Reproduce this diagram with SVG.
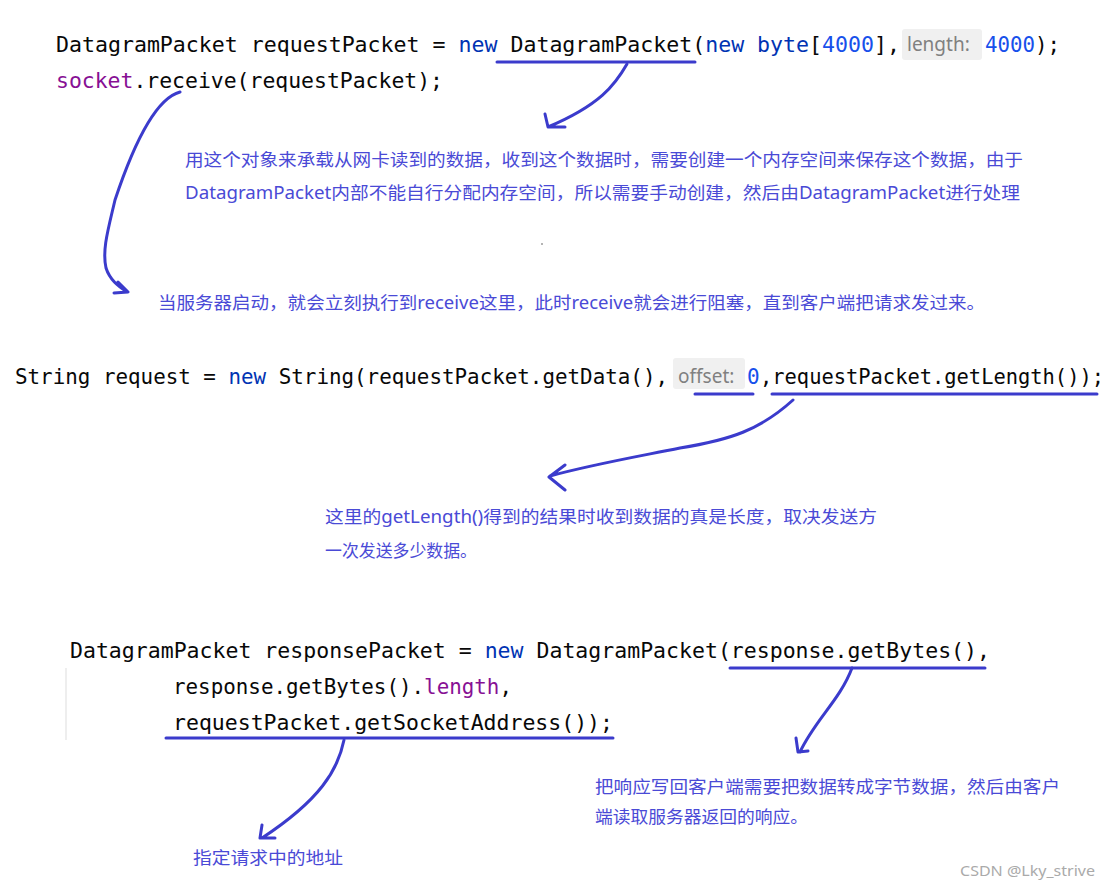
<svg xmlns="http://www.w3.org/2000/svg" width="1111" height="888" viewBox="0 0 1111 888">
<style>
.c{font-family:"DejaVu Sans Mono","Liberation Mono",monospace;font-size:21px;fill:#080808}
.k{fill:#0033b3}.n{fill:#1750eb}.p{fill:#871094}
.h{font-family:"Noto Sans","Liberation Sans",sans-serif;font-size:19px;fill:#808080}
.a{font-family:"Noto Sans","Noto Sans CJK SC",sans-serif;font-size:17.5px;fill:#4a4ad6}
.l{stroke:#3b3bcc;stroke-width:3;fill:none;stroke-linecap:round;stroke-linejoin:round}
</style>
<rect width="1111" height="888" fill="#fff"/>
<g id="code">
<rect x="902" y="29" width="80" height="31" rx="3" fill="#f0f0f0"/>
<rect x="673" y="358" width="72" height="31" rx="3" fill="#f0f0f0"/>
<line x1="66" y1="668" x2="66" y2="740" stroke="#ddd"/>
<text class="c" x="56" y="52" textLength="844" lengthAdjust="spacingAndGlyphs">DatagramPacket requestPacket = <tspan class="k">new</tspan> DatagramPacket(<tspan class="k">new byte</tspan>[<tspan class="n">4000</tspan>],</text>
<text class="h" x="907" y="51">length:</text>
<text class="c" x="985" y="52" textLength="75" lengthAdjust="spacingAndGlyphs"><tspan class="n">4000</tspan>);</text>
<text class="c" x="56" y="88" textLength="387" lengthAdjust="spacingAndGlyphs"><tspan class="p">socket</tspan>.receive(requestPacket);</text>
<text class="c" x="15" y="384" textLength="653" lengthAdjust="spacingAndGlyphs">String request = <tspan class="k">new</tspan> String(requestPacket.getData(),</text>
<text class="h" x="678" y="383">offset:</text>
<text class="c n" x="747" y="384">0</text>
<text class="c" x="760" y="384" textLength="344" lengthAdjust="spacingAndGlyphs">,requestPacket.getLength());</text>
<text class="c" x="70" y="658" textLength="920" lengthAdjust="spacingAndGlyphs">DatagramPacket responsePacket = <tspan class="k">new</tspan> DatagramPacket(response.getBytes(),</text>
<text class="c" x="173" y="694" textLength="339" lengthAdjust="spacingAndGlyphs">response.getBytes().<tspan class="p">length</tspan>,</text>
<text class="c" x="173" y="730" textLength="440" lengthAdjust="spacingAndGlyphs">requestPacket.getSocketAddress());</text>
</g>
<g id="notes">
<text class="a" x="185" y="166" textLength="838" lengthAdjust="spacingAndGlyphs">用这个对象来承载从网卡读到的数据，收到这个数据时，需要创建一个内存空间来保存这个数据，由于</text>
<text class="a" x="185" y="199" textLength="835" lengthAdjust="spacingAndGlyphs">DatagramPacket内部不能自行分配内存空间，所以需要手动创建，然后由DatagramPacket进行处理</text>
<text class="a" x="158" y="309" textLength="827" lengthAdjust="spacingAndGlyphs">当服务器启动，就会立刻执行到receive这里，此时receive就会进行阻塞，直到客户端把请求发过来。</text>
<text class="a" x="325" y="523" textLength="552" lengthAdjust="spacingAndGlyphs">这里的getLength()得到的结果时收到数据的真是长度，取决发送方</text>
<text class="a" x="325" y="557" textLength="152" lengthAdjust="spacingAndGlyphs">一次发送多少数据。</text>
<text class="a" x="595" y="793" textLength="465" lengthAdjust="spacingAndGlyphs">把响应写回客户端需要把数据转成字节数据，然后由客户</text>
<text class="a" x="595" y="823" textLength="213" lengthAdjust="spacingAndGlyphs">端读取服务器返回的响应。</text>
<text class="a" x="193" y="864" textLength="150" lengthAdjust="spacingAndGlyphs">指定请求中的地址</text>
<text x="960" y="876" font-family="Noto Sans,Noto Sans CJK SC,sans-serif" font-size="14" fill="#aaa" textLength="135" lengthAdjust="spacingAndGlyphs">CSDN @Lky_strive</text>
<circle cx="542" cy="244" r="0.8" fill="#555"/>
</g>
<g id="connectors" class="l">
<path d="M497 62H695M695 394H753M772 394H1097M730 668H985M166 738H613"/>
<path d="M627 64C615 85 600 105 548 127M545 114L548 127L565 127"/>
<path d="M180 92C150 100 125 170 115 200C108 230 102 250 106 268C110 280 118 286 127 292M118 282L128 292L114 293"/>
<path d="M793 400C760 430 730 440 680 448C630 458 590 465 550 476M565 465L549 477L565 490"/>
<path d="M852 668C840 700 815 720 800 752M796 738L798 752L808 751"/>
<path d="M344 740C338 770 320 800 262 838M262 825L260 838L275 838"/>
</g>
</svg>
